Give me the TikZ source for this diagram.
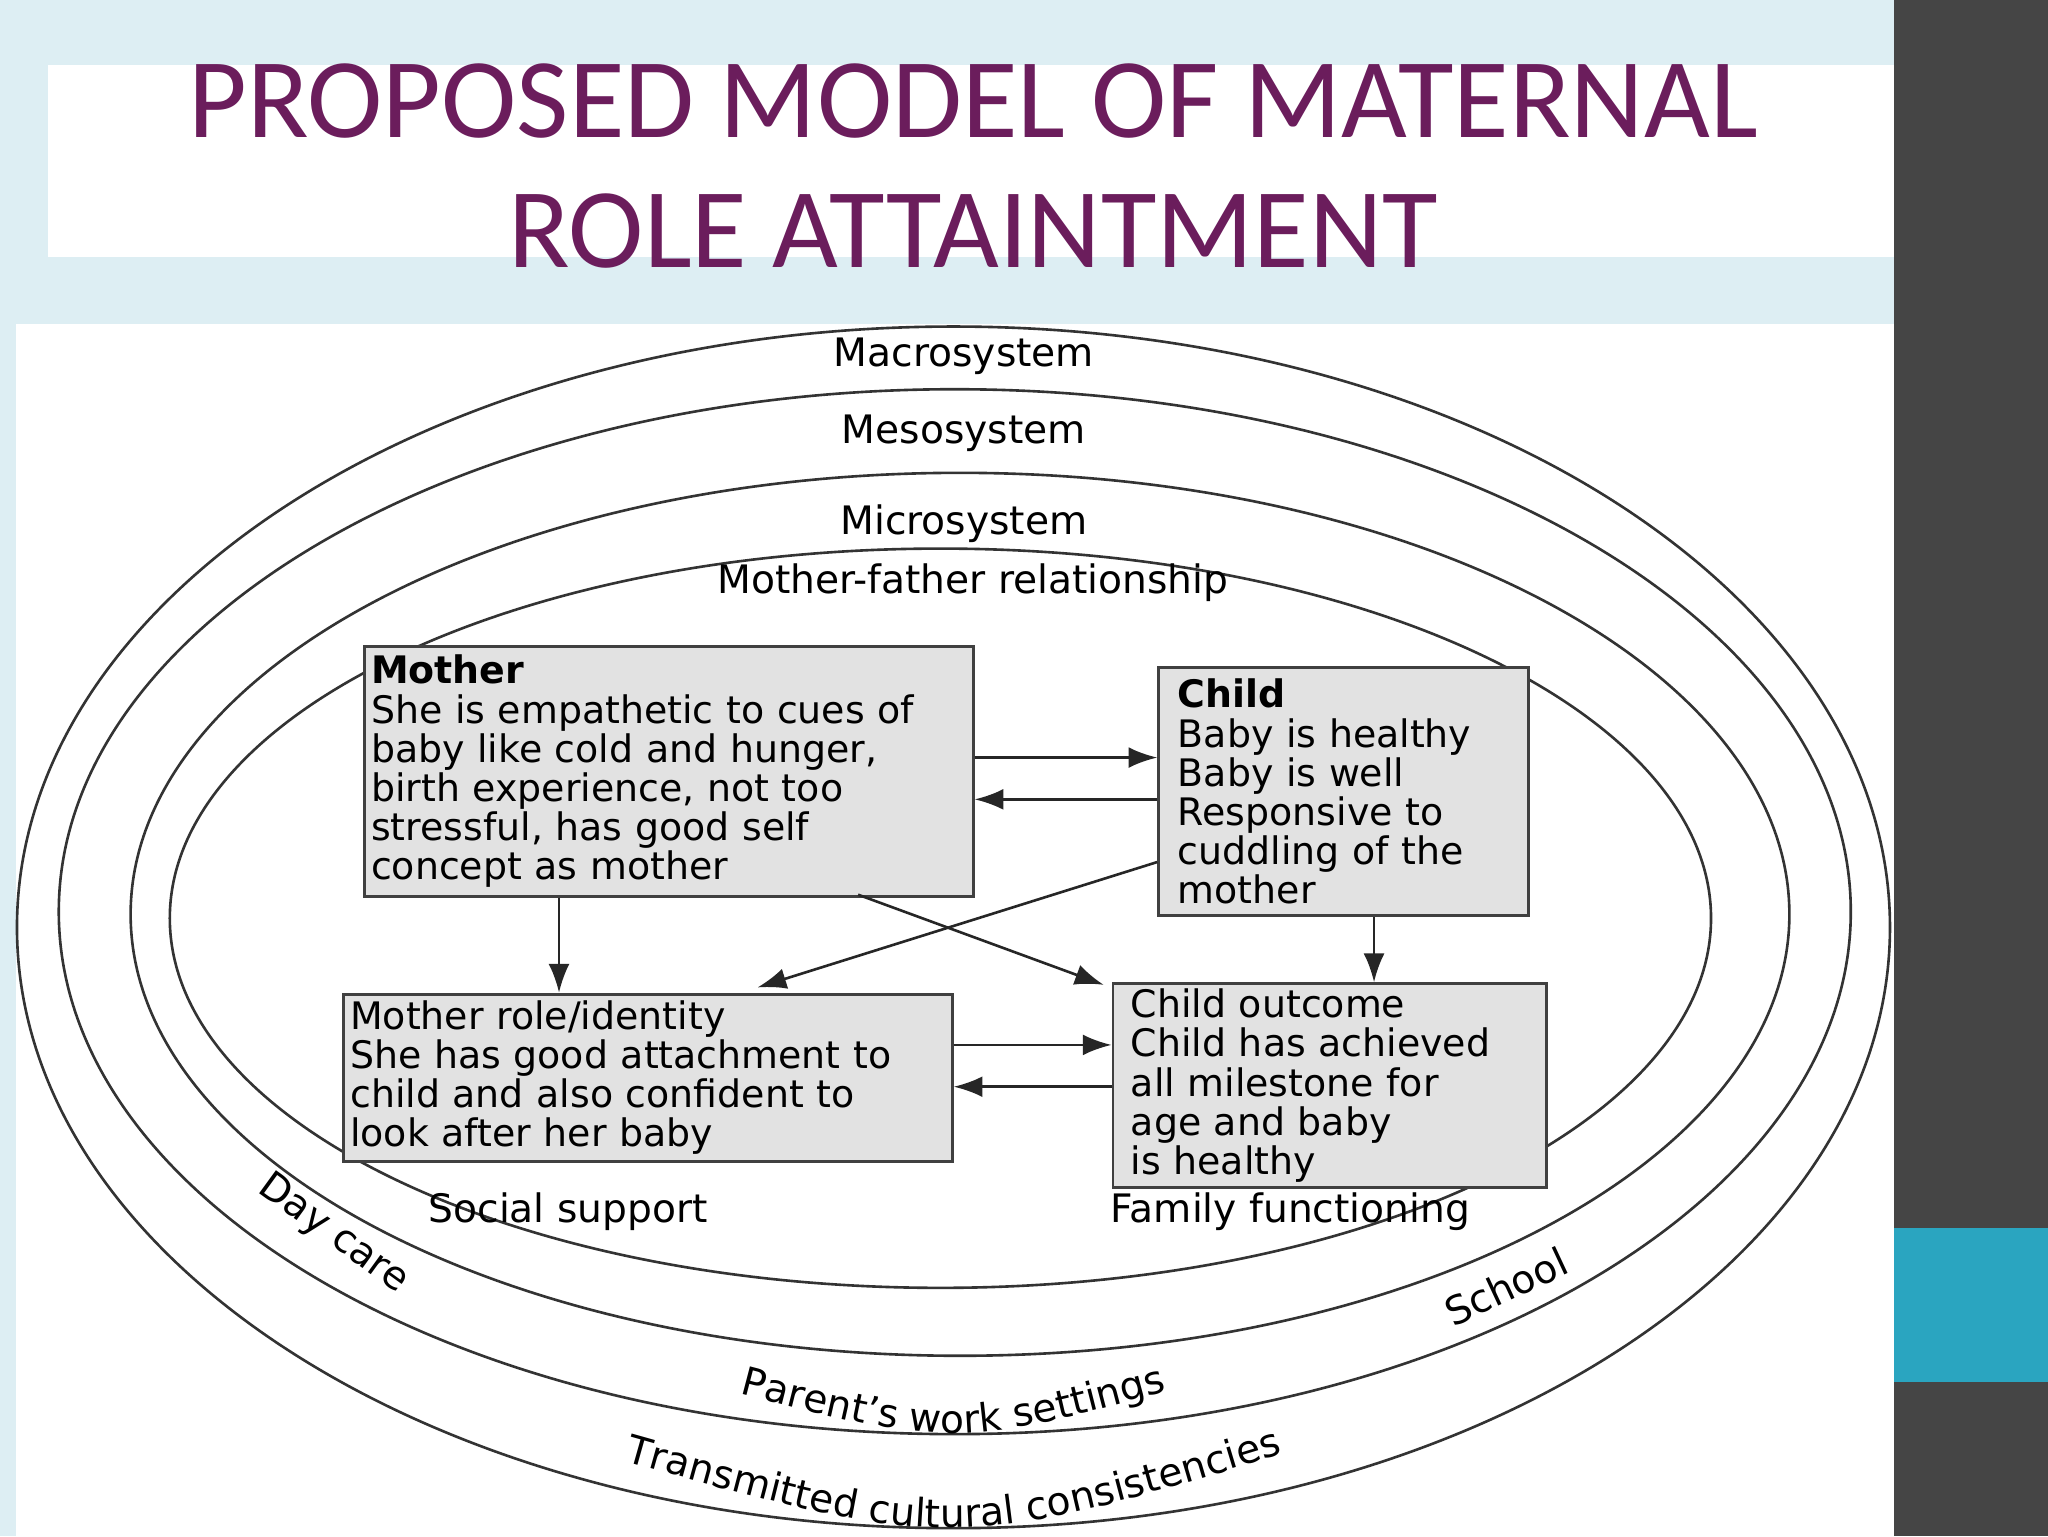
\documentclass[tikz,border=0pt]{standalone}
\usepackage{fontspec}
\setmainfont{DejaVu Sans}
\newfontfamily\titlefont{Carlito}
\usetikzlibrary{decorations.text,arrows.meta}
\definecolor{hdr}{HTML}{DDEEF3}
\definecolor{ttl}{HTML}{6B1D5C}
\definecolor{dark}{HTML}{454545}
\definecolor{teal}{HTML}{2AA5C0}
\definecolor{boxg}{HTML}{E2E2E2}
\begin{document}
\begin{tikzpicture}[x=1pt,y=-1pt,
  box/.style={draw=black!75,line width=2.2pt,fill=boxg,anchor=north west,align=left,inner sep=5pt,font=\fontsize{29}{30}\selectfont},
  lab/.style={font=\fontsize{30}{30}\selectfont},
  arr/.style={-{Latex[length=22pt,width=16pt]},line width=2pt,black!85},
  ell/.style={draw=black!80,line width=2pt}]
\useasboundingbox (0,0) rectangle (1568,1176);
\fill[hdr] (0,0) rectangle (1568,1176);
\fill[white] (12,248) rectangle (1450,1176);
\fill[white] (37,50) rectangle (1452,197);
\fill[dark] (1450,0) rectangle (1568,1176);
\fill[teal] (1450,940) rectangle (1568,1058);
\node[font=\titlefont\fontsize{87}{90}\selectfont,text=ttl] (t1) at (745,77) {PROPOSED MODEL OF MATERNAL};
\node[font=\titlefont\fontsize{87}{90}\selectfont,text=ttl] (t2) at (745,177) {ROLE ATTAINTMENT};
% ellipses
\draw[ell] (730,710) ellipse [x radius=717,y radius=460];
\draw[ell] (731,698) ellipse [x radius=686,y radius=400];
\draw[ell] (735,700) ellipse [x radius=635,y radius=338];
\draw[ell] (720,703) ellipse [x radius=590,y radius=283];
\node[lab] (macro) at (738,273) {Macrosystem};
\node[lab] (meso) at (738,332) {Mesosystem};
\node[lab] (micro) at (738,401) {Microsystem};
\node[lab] (mfr) at (745,446) {Mother-father relationship};
% boxes
\node[box,text width=456,minimum height=191] (mother) at (278,494) {\textbf{Mother}\\She is empathetic to cues of\\baby like cold and hunger,\\birth experience, not too\\stressful, has good self\\concept as mother};
\node[box,text width=273,minimum height=190] (child) at (886,510) {\ \textbf{Child}\\\ Baby is healthy\\\ Baby is well\\\ Responsive to\\\ cuddling of the\\\ mother};
\node[box,text width=456,minimum height=127] (role) at (262,760) {Mother role/identity\\She has good attachment to\\child and also confident to\\look after her baby};
\node[box,text width=324,minimum height=156,inner sep=4pt] (out) at (851,752) {\ Child outcome\\\ Child has achieved\\\ all milestone for\\\ age and baby\\\ is healthy};
% arrows
\draw[arr] (mother.east|-0,580) -- (child.west|-0,580);
\draw[arr] (child.west|-0,612) -- (mother.east|-0,612);
\draw[arr] (mother.south-|428,0) -- (role.north-|428,0);
\draw[arr] (child.south-|1052,0) -- (out.north-|1052,0);
\draw[arr] (657,685) coordinate (c1) -- (845,754);
\draw[arr] (child.west|-0,660) -- (580,756);
\draw[arr] (role.east|-0,800) -- (out.west|-0,800);
\draw[arr] (out.west|-0,832) -- (role.east|-0,832);
\node[lab] (ss) at (435,928) {Social support};
\node[lab] (ff) at (988,928) {Family functioning};
\node[lab,rotate=-36] (dc) at (255,945) {Day care};
\node[lab,rotate=25] (sc) at (1153,985) {School};
\path[decorate,decoration={text along path,text align=center,text={|\fontsize{30}{30}\selectfont|Parent's work settings}}] (540,1060) .. controls (730,1110) .. (920,1058);
\path[decorate,decoration={text along path,text align=center,text={|\fontsize{30}{30}\selectfont|Transmitted cultural consistencies}}] (455,1112) .. controls (730,1190) .. (1005,1106);
\end{tikzpicture}
\end{document}
